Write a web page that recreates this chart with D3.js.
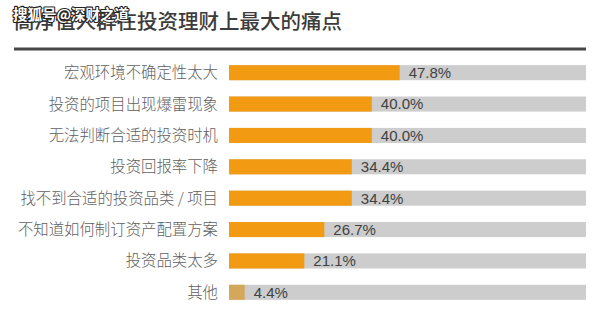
<!DOCTYPE html>
<html>
<head>
<meta charset="utf-8">
<script src="https://cdn.jsdelivr.net/npm/d3@7"></script>
<style>
  html, body { margin: 0; padding: 0; background: #fff; }
  svg { display: block; }
  text { font-family: "Noto Sans CJK SC", "Noto Sans", sans-serif; }
</style>
</head>
<body>
<div id="chart"></div>
<script>
const title = "高净值人群在投资理财上最大的痛点";
const watermark = "搜狐号@深财之道";
const categories = [
  "宏观环境不确定性太大",
  "投资的项目出现爆雷现象",
  "无法判断合适的投资时机",
  "投资回报率下降",
  "找不到合适的投资品类 / 项目",
  "不知道如何制订资产配置方案",
  "投资品类太多",
  "其他"
];
const values = [47.8, 40.0, 40.0, 34.4, 34.4, 26.7, 21.1, 4.4];
const valueLabels = ["47.8%", "40.0%", "40.0%", "34.4%", "34.4%", "26.7%", "21.1%", "4.4%"];
const barColors = ["#f29a12", "#f29a12", "#f29a12", "#f29a12", "#f29a12", "#f29a12", "#f29a12", "#d4a85a"];

const W = 600, H = 314;
const svg = d3.select("#chart").append("svg").attr("width", W).attr("height", H);

const x = d3.scaleLinear().domain([0, 100]).range([229, 586]);
const y = d3.scaleBand().domain(categories).range([57, 308]).paddingInner(0.52).paddingOuter(0.26);

// title
svg.append("text").attr("x", 14).attr("y", 29)
  .attr("font-size", 20.5).attr("fill", "#3c3c3c").attr("font-weight", 500)
  .text(title);

// watermark (overlaps the title, as in the reference)
svg.append("text").attr("x", 13).attr("y", 20)
  .attr("font-size", 14.5).attr("font-weight", 700)
  .attr("fill", "#fff").attr("stroke", "#222").attr("stroke-width", 2.2)
  .attr("paint-order", "stroke").attr("stroke-linejoin", "round")
  .text(watermark);

// rule line
svg.append("line").attr("x1", 14).attr("x2", 586).attr("y1", 49).attr("y2", 49)
  .attr("stroke", "#474747").attr("stroke-width", 3);

const rows = svg.append("g").selectAll("g").data(categories).join("g");

// background track
rows.append("rect")
  .attr("x", x(0)).attr("y", d => y(d))
  .attr("width", x(100) - x(0)).attr("height", y.bandwidth())
  .attr("fill", "#cdcdcd");

// value bars
rows.append("rect")
  .attr("x", x(0)).attr("y", d => y(d))
  .attr("width", (d, i) => x(values[i]) - x(0))
  .attr("height", y.bandwidth())
  .attr("fill", (d, i) => barColors[i]);

// category labels
rows.append("text")
  .attr("x", 218).attr("y", d => y(d) + y.bandwidth() / 2)
  .attr("dy", "0.36em").attr("text-anchor", "end")
  .attr("font-size", 15.4).attr("fill", "#616161").attr("font-weight", 300)
  .text(d => d);

// value labels
rows.append("text")
  .attr("x", (d, i) => x(values[i]) + 9)
  .attr("y", d => y(d) + y.bandwidth() / 2)
  .attr("dy", "0.36em")
  .attr("font-size", 15).attr("fill", "#414141")
  .style("font-family", "'Liberation Sans', Arial, sans-serif")
  .text((d, i) => valueLabels[i]);
</script>
</body>
</html>
